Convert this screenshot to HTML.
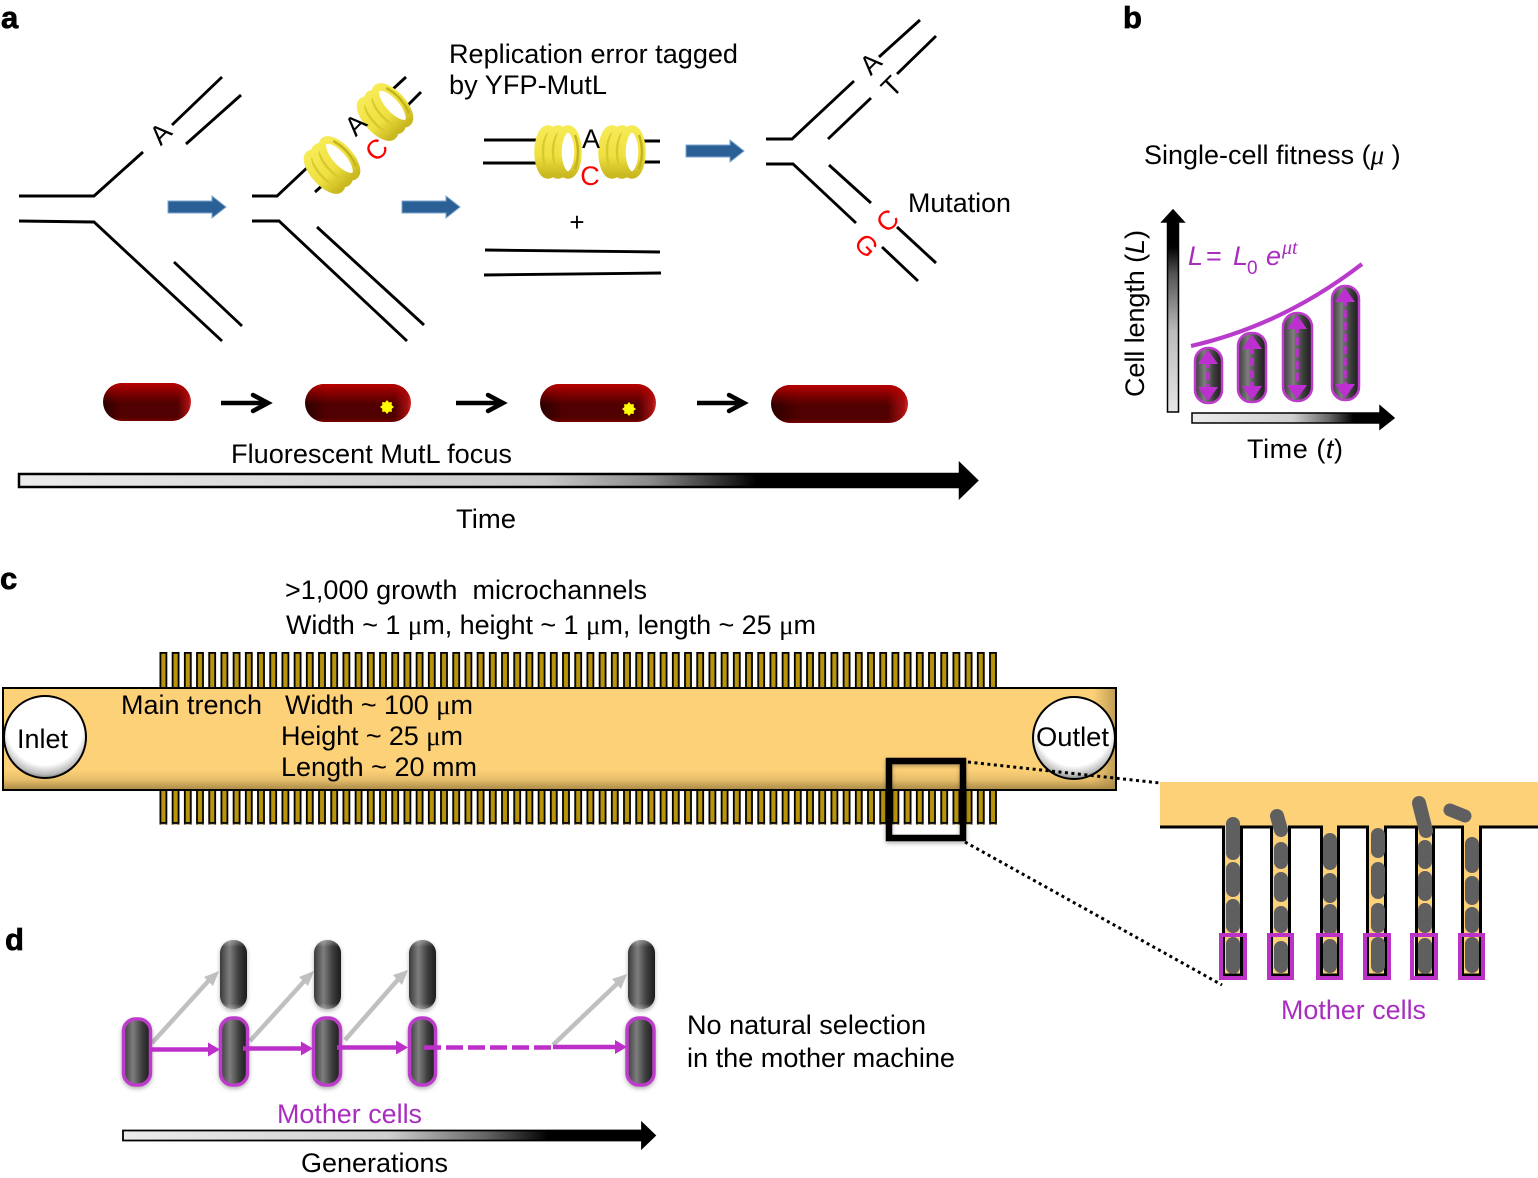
<!DOCTYPE html>
<html><head><meta charset="utf-8"><style>
html,body{margin:0;padding:0;background:#fff}
svg{display:block}
text{font-family:"Liberation Sans",sans-serif;font-size:27px;fill:#000}
.b{font-weight:bold;font-size:31px;stroke:#000;stroke-width:.7}
.l{font-size:27px;text-anchor:middle}
.p{fill:#a92dbf}
.i{font-style:italic}
.s{font-family:"Liberation Serif",serif}
.dna{fill:none;stroke:#000;stroke-width:2.9;stroke-linejoin:miter}
.ring{fill:#d9c92e;stroke:url(#yel);stroke-width:7.5}
</style></head><body>
<svg width="1538" height="1178" viewBox="0 0 1538 1178" xmlns="http://www.w3.org/2000/svg">
<defs>
<linearGradient id="yel" x1="0" y1="0" x2="0" y2="1"><stop offset="0" stop-color="#f6ea55"/><stop offset=".6" stop-color="#efe040"/><stop offset="1" stop-color="#c9b820"/></linearGradient>
<linearGradient id="barH"><stop offset="0" stop-color="#ececec"/><stop offset=".55" stop-color="#c8c8c8"/><stop offset=".66" stop-color="#8a8a8a"/><stop offset=".77" stop-color="#000"/></linearGradient>
<linearGradient id="barB"><stop offset="0" stop-color="#ececec"/><stop offset=".5" stop-color="#cfcfcf"/><stop offset=".68" stop-color="#666"/><stop offset=".8" stop-color="#000"/></linearGradient>
<linearGradient id="barV" x1="0" y1="1" x2="0" y2="0"><stop offset="0" stop-color="#e6e6e6"/><stop offset=".4" stop-color="#bbb"/><stop offset=".68" stop-color="#555"/><stop offset=".82" stop-color="#000"/></linearGradient>
<linearGradient id="gh"><stop offset="0" stop-color="#3a3a3a"/><stop offset=".35" stop-color="#7e7e7e"/><stop offset=".7" stop-color="#3c3c3c"/><stop offset="1" stop-color="#1c1c1c"/></linearGradient>
<linearGradient id="gt" x1="0" y1="0" x2="0" y2="1"><stop offset="0" stop-color="#fff" stop-opacity=".3"/><stop offset=".1" stop-color="#fff" stop-opacity="0"/><stop offset=".92" stop-color="#fff" stop-opacity="0"/><stop offset="1" stop-color="#fff" stop-opacity=".3"/></linearGradient>
<linearGradient id="rh"><stop offset="0" stop-color="#2c0000"/><stop offset=".2" stop-color="#500000"/><stop offset=".85" stop-color="#500000"/><stop offset=".97" stop-color="#a81010"/><stop offset="1" stop-color="#d03030"/></linearGradient>
<linearGradient id="rv" x1="0" y1="0" x2="0" y2="1"><stop offset="0" stop-color="#c00000" stop-opacity=".95"/><stop offset=".55" stop-color="#a00000" stop-opacity="0"/><stop offset=".88" stop-color="#700" stop-opacity="0"/><stop offset="1" stop-color="#900" stop-opacity=".6"/></linearGradient>
<linearGradient id="tr" x1="0" y1="0" x2="0" y2="1"><stop offset="0" stop-color="#fdd178"/><stop offset=".8" stop-color="#fdd178"/><stop offset=".9" stop-color="#e6bd6a"/><stop offset="1" stop-color="#a68845"/></linearGradient>
<linearGradient id="trR"><stop offset=".98" stop-color="#a68845" stop-opacity="0"/><stop offset="1" stop-color="#a68845" stop-opacity=".7"/></linearGradient>
<radialGradient id="ball" cx=".5" cy=".38" r=".64"><stop offset="0" stop-color="#fff"/><stop offset=".72" stop-color="#fff"/><stop offset=".9" stop-color="#bbb"/><stop offset="1" stop-color="#666"/></radialGradient>
<pattern id="chT" patternUnits="userSpaceOnUse" x="159.5" y="652" width="12.2" height="60"><rect x=".9" y=".9" width="6" height="70" fill="#b8940c" stroke="#000" stroke-width="1.8"/></pattern>
<pattern id="chB" patternUnits="userSpaceOnUse" x="159.5" y="760" width="12.2" height="64"><rect x=".9" y="-5" width="6" height="68" fill="#b8940c" stroke="#000" stroke-width="1.8"/></pattern>
<filter id="sh" x="-30%" y="-20%" width="160%" height="140%"><feDropShadow dx="0" dy="2" stdDeviation="2" flood-color="#000" flood-opacity=".3"/></filter>
<g id="coil">
<ellipse class="ring" cx="-10" cy="0" rx="10" ry="23"/>
<ellipse class="ring" cx="0" cy="0" rx="10" ry="23"/>
<ellipse cx="10" cy="0" rx="10" ry="23" fill="#fff" stroke="url(#yel)" stroke-width="7.5"/>
<path d="M17 -17 Q23 0 17 17" fill="none" stroke="#c4b31c" stroke-width="2.5"/>
</g>
<polygon id="star" fill="#ffff00" points="7,0 4.6,1.9 4.9,4.9 1.9,4.6 0,7 -1.9,4.6 -4.9,4.9 -4.6,1.9 -7,0 -4.6,-1.9 -4.9,-4.9 -1.9,-4.6 0,-7 1.9,-4.6 4.9,-4.9 4.6,-1.9"/>
<g id="blue"><polygon points="0,-6 44,-6 44,-11 58,0 44,11 44,6 0,6" fill="#2a6096" stroke="#7ba6cf" stroke-width="1"/></g>
<g id="ar"><path d="M0 0H46" stroke="#000" stroke-width="4.5" fill="none"/><path d="M32 -8L47 0L32 8" stroke="#000" stroke-width="4.5" fill="none" stroke-linecap="round"/></g>
<g id="gc" filter="url(#sh)"><rect x="0" y="0" width="27" height="69" rx="13" fill="url(#gh)"/><rect x="0" y="0" width="27" height="69" rx="13" fill="url(#gt)"/></g>
</defs>

<text class="b" x="1" y="28">a</text>
<text class="b" x="1123" y="28">b</text>
<text class="b" x="0" y="589">c</text>
<text class="b" x="5" y="950">d</text>

<!-- fork 1 -->
<path class="dna" d="M19 196H94L143 152M172 125L222 77M186 144L241 95M19 221L94 222L222 341M174 262L242 326"/>
<text class="l" transform="translate(160,133) rotate(-45) translate(0,10)">A</text>
<use href="#blue" x="168" y="207"/>
<!-- fork 2 -->
<path class="dna" d="M252 196H277L310 165M315 192L325 183M393 89L406 77M408 105L421 92M252 221H279L407 341M317 227L424 325"/>
<use href="#coil" transform="translate(332,165) rotate(-42) "/>
<use href="#coil" transform="translate(385,112) rotate(-42)"/>
<text class="l" transform="translate(355,124) rotate(-45) translate(0,10)">A</text>
<text class="l" style="fill:#f00" transform="translate(376,149) rotate(-45) translate(0,10)">C</text>
<use href="#blue" x="402" y="207"/>
<!-- middle -->
<path class="dna" d="M484 140H540M483 163H538M643 141H660M643 162H660M485 250L660 252M484 275L661 273"/>
<use href="#coil" transform="translate(558,152)"/>
<use href="#coil" transform="translate(622,152)"/>
<text class="l" x="591" y="148">A</text>
<text class="l" style="fill:#f00" x="590" y="185">C</text>
<text x="577" y="231" style="font-size:26px;text-anchor:middle">+</text>
<use href="#blue" x="686" y="151"/>
<!-- fork 4 -->
<path class="dna" d="M766 139H792L854 81M879 57L920 20M828 139L871 98M897 74L936 36M766 164H793L856 223M882 247L918 281M829 165L871 203M897 227L936 263"/>
<text class="l" transform="translate(870,63) rotate(-45) translate(0,10)">A</text>
<text class="l" transform="translate(891,86) rotate(-45) translate(0,10)">T</text>
<text class="l" style="fill:#f00" transform="translate(887,220) rotate(-45) translate(0,10)">C</text>
<text class="l" style="fill:#f00" transform="translate(867,245) rotate(45) translate(0,10)">G</text>

<text x="449" y="63" textLength="289" lengthAdjust="spacingAndGlyphs">Replication error tagged</text>
<text x="449" y="94" textLength="158" lengthAdjust="spacingAndGlyphs">by YFP-MutL</text>
<text x="908" y="212" textLength="103" lengthAdjust="spacingAndGlyphs">Mutation</text>

<!-- red cells -->
<g>
<rect x="103" y="383" width="88" height="38" rx="19" fill="url(#rh)"/><rect x="103" y="383" width="88" height="38" rx="19" fill="url(#rv)"/>
<rect x="305" y="384" width="106" height="38" rx="19" fill="url(#rh)"/><rect x="305" y="384" width="106" height="38" rx="19" fill="url(#rv)"/>
<rect x="540" y="384" width="116" height="38" rx="19" fill="url(#rh)"/><rect x="540" y="384" width="116" height="38" rx="19" fill="url(#rv)"/>
<rect x="771" y="385" width="137" height="38" rx="19" fill="url(#rh)"/><rect x="771" y="385" width="137" height="38" rx="19" fill="url(#rv)"/>
</g>
<use href="#star" x="387" y="407"/>
<use href="#star" x="629" y="409"/>
<use href="#ar" x="221" y="403"/>
<use href="#ar" x="456" y="403"/>
<use href="#ar" x="697" y="403"/>

<text x="231" y="463" textLength="281" lengthAdjust="spacingAndGlyphs">Fluorescent MutL focus</text>
<path d="M19 474H960V464L977 480.5L960 497V487H19Z" fill="url(#barH)" stroke="#000" stroke-width="2.5"/>
<text x="456" y="528" textLength="60" lengthAdjust="spacingAndGlyphs">Time</text>

<!-- b -->
<text x="1144" y="164">Single-cell fitness (<tspan class="i s">μ</tspan> )</text>
<text transform="translate(1144,397) rotate(-90)" x="0" y="0" textLength="167" lengthAdjust="spacing">Cell length (<tspan class="i">L</tspan>)</text>
<path d="M1167.5 412V222H1162L1173 210L1184 222H1178.5V412Z" fill="url(#barV)" stroke="#000" stroke-width="1.5"/>
<path d="M1192 413H1380V406L1394 418L1380 429V423H1192Z" fill="url(#barB)" stroke="#000" stroke-width="1.5"/>
<text x="1247" y="458" textLength="96" lengthAdjust="spacing">Time (<tspan class="i">t</tspan>)</text>
<text class="p i" x="1188" y="265">L</text>
<text class="p" x="1206" y="265">=</text>
<text class="p i" x="1233" y="265">L</text>
<text class="p" x="1247" y="274" style="font-size:19px">0</text>
<text class="p i" x="1266" y="265">e</text>
<text class="p i s" x="1282" y="254" style="font-size:20px">μt</text>
<path d="M1191 346Q1283 325 1362 264" fill="none" stroke="#b93bcb" stroke-width="4.2"/>
<g stroke="#bd3ccb" stroke-width="2.5">
<rect x="1195" y="348" width="27" height="55" rx="13" fill="url(#gh)"/>
<rect x="1238" y="333" width="28" height="69" rx="13" fill="url(#gh)"/>
<rect x="1283" y="313" width="29" height="88" rx="14" fill="url(#gh)"/>
<rect x="1332" y="286" width="27" height="114" rx="13" fill="url(#gh)"/>
</g>
<g stroke="#bd2fd0" stroke-width="3.5" stroke-dasharray="8 4" fill="none">
<path d="M1208 360V392M1252 346V390M1297 325V390M1345 298V388"/>
</g>
<g fill="#bd2fd0">
<path d="M1208 350L1198 364H1218ZM1208 401L1198 387H1218Z"/>
<path d="M1252 335L1242 349H1262ZM1252 400L1242 386H1262Z"/>
<path d="M1297 315L1287 329H1307ZM1297 399L1287 385H1307Z"/>
<path d="M1345 288L1335 302H1355ZM1345 398L1335 384H1355Z"/>
</g>

<!-- c -->
<text x="285" y="599" textLength="362" lengthAdjust="spacing">&gt;1,000 growth &#160;microchannels</text>
<text x="286" y="634" textLength="530" lengthAdjust="spacing">Width ~ 1 <tspan class="s">μ</tspan>m, height ~ 1 <tspan class="s">μ</tspan>m, length ~ 25 <tspan class="s">μ</tspan>m</text>
<rect x="159.5" y="652" width="838" height="40" fill="url(#chT)"/>
<rect x="159.5" y="786" width="838" height="38.5" fill="url(#chB)"/>
<rect x="3" y="688" width="1113" height="102" fill="url(#tr)" stroke="#000" stroke-width="2"/>
<rect x="4" y="689" width="1111" height="100" fill="url(#trR)"/>
<circle cx="45" cy="737" r="41" fill="url(#ball)" stroke="#000" stroke-width="2"/>
<circle cx="1074" cy="738" r="41" fill="url(#ball)" stroke="#000" stroke-width="2"/>
<text x="17" y="748" textLength="51" lengthAdjust="spacingAndGlyphs">Inlet</text>
<text x="1036" y="746" textLength="73" lengthAdjust="spacingAndGlyphs">Outlet</text>
<text x="121" y="714" textLength="141" lengthAdjust="spacingAndGlyphs">Main trench</text>
<text x="285" y="714" textLength="188" lengthAdjust="spacing">Width ~ 100 <tspan class="s">μ</tspan>m</text>
<text x="281" y="745" textLength="182" lengthAdjust="spacing">Height ~ 25 <tspan class="s">μ</tspan>m</text>
<text x="281" y="776" textLength="196" lengthAdjust="spacing">Length ~ 20 mm</text>
<rect x="889" y="761" width="74" height="77" fill="none" stroke="#000" stroke-width="6.5" filter="url(#sh)"/>
<path d="M968 762L1160 783M965 842L1222 985" stroke="#000" stroke-width="3" stroke-dasharray="3 3.5" fill="none"/>

<!-- inset -->
<rect x="1160" y="782" width="378" height="45" fill="#fdd178"/>
<path d="M1224 826H1241V975H1224ZM1272 826H1289V975H1272ZM1322 826H1338V975H1322ZM1368 826H1385V975H1368ZM1417 826H1433V975H1417ZM1463 826H1480V975H1463Z" fill="#fdd178"/>
<path d="M1160 827H1223.5V975H1241.5V827H1271.5V975H1289.5V827H1321.5V975H1338.5V827H1367.5V975H1385.5V827H1416.5V975H1433.5V827H1462.5V975H1480.5V827H1538" fill="none" stroke="#000" stroke-width="3"/>
<g stroke="#5f5f5f" stroke-width="14" stroke-linecap="round" fill="none">
<path d="M1233 824V853M1233 869V890M1233 906V926M1233 944V967"/>
<path d="M1277 816L1281 830M1281 849V862M1281 879V895M1281 913V926M1281 948V966"/>
<path d="M1330 840V863M1330 880V896M1330 911V928M1330 946V966"/>
<path d="M1378 835V851M1378 869V892M1378 910V926M1378 944V966"/>
<path d="M1419 803L1426 831M1425 847V862M1425 878V894M1425 910V926M1425 945V967"/>
<path d="M1472 844V866M1472 883V898M1472 914V926M1472 944V966"/>
<path d="M1450 810L1465 816" stroke-width="13"/>
</g>
<g fill="none" stroke="#bd32c6" stroke-width="4">
<rect x="1221" y="935" width="24" height="43"/>
<rect x="1269" y="935" width="23" height="43"/>
<rect x="1318" y="935" width="23" height="43"/>
<rect x="1365" y="935" width="24" height="43"/>
<rect x="1412" y="935" width="24" height="43"/>
<rect x="1460" y="935" width="23" height="43"/>
</g>
<text class="p" x="1281" y="1019" textLength="145" lengthAdjust="spacingAndGlyphs">Mother cells</text>

<!-- d -->
<g stroke="#c0c0c0" stroke-width="4.5" fill="none">
<path d="M152 1043L212 977M250 1041L308 977M345 1040L402 975M553 1045L621 980"/>
</g>
<g fill="#c0c0c0">
<path d="M219 971L204 977L213 986Z"/><path d="M314 971L299 977L308 986Z"/><path d="M408 970L393 975L402 985Z"/><path d="M627 974L612 979L621 989Z"/>
</g>
<use href="#gc" x="220" y="940"/>
<use href="#gc" x="314" y="940"/>
<use href="#gc" x="409" y="940"/>
<use href="#gc" x="628" y="940"/>
<g stroke="#bd3ccb" stroke-width="3.5" filter="url(#sh)">
<rect x="123.5" y="1019" width="27" height="66" rx="12" fill="url(#gh)"/>
<rect x="220.5" y="1018" width="27" height="67" rx="12" fill="url(#gh)"/>
<rect x="313.5" y="1018" width="27" height="67" rx="12" fill="url(#gh)"/>
<rect x="409.5" y="1018" width="26" height="67" rx="12" fill="url(#gh)"/>
<rect x="627" y="1018" width="27" height="67" rx="12" fill="url(#gh)"/>
</g>
<g stroke="#bd2fc9" stroke-width="4.5" fill="none">
<path d="M150 1049.5H212M243 1048.5H305M337 1047.5H400M553 1047L618 1047"/>
<path d="M424 1047.5H553" stroke-dasharray="17 5"/>
</g>
<g fill="#bd2fc9">
<path d="M220 1049.5L208 1042.5V1056.5Z"/><path d="M313 1048.5L301 1041.5V1055.5Z"/><path d="M408 1047.5L396 1040.5V1054.5Z"/><path d="M627 1047L615 1040V1054Z"/>
</g>
<text class="p" x="277" y="1123" textLength="145" lengthAdjust="spacingAndGlyphs">Mother cells</text>
<path d="M123 1130.5H642V1123L655 1135.5L642 1148V1140.5H123Z" fill="url(#barB)" stroke="#000" stroke-width="1.8"/>
<text x="301" y="1172" textLength="147" lengthAdjust="spacingAndGlyphs">Generations</text>
<text x="687" y="1034" textLength="239" lengthAdjust="spacingAndGlyphs">No natural selection</text>
<text x="687" y="1067" textLength="268" lengthAdjust="spacingAndGlyphs">in the mother machine</text>
</svg>
</body></html>
